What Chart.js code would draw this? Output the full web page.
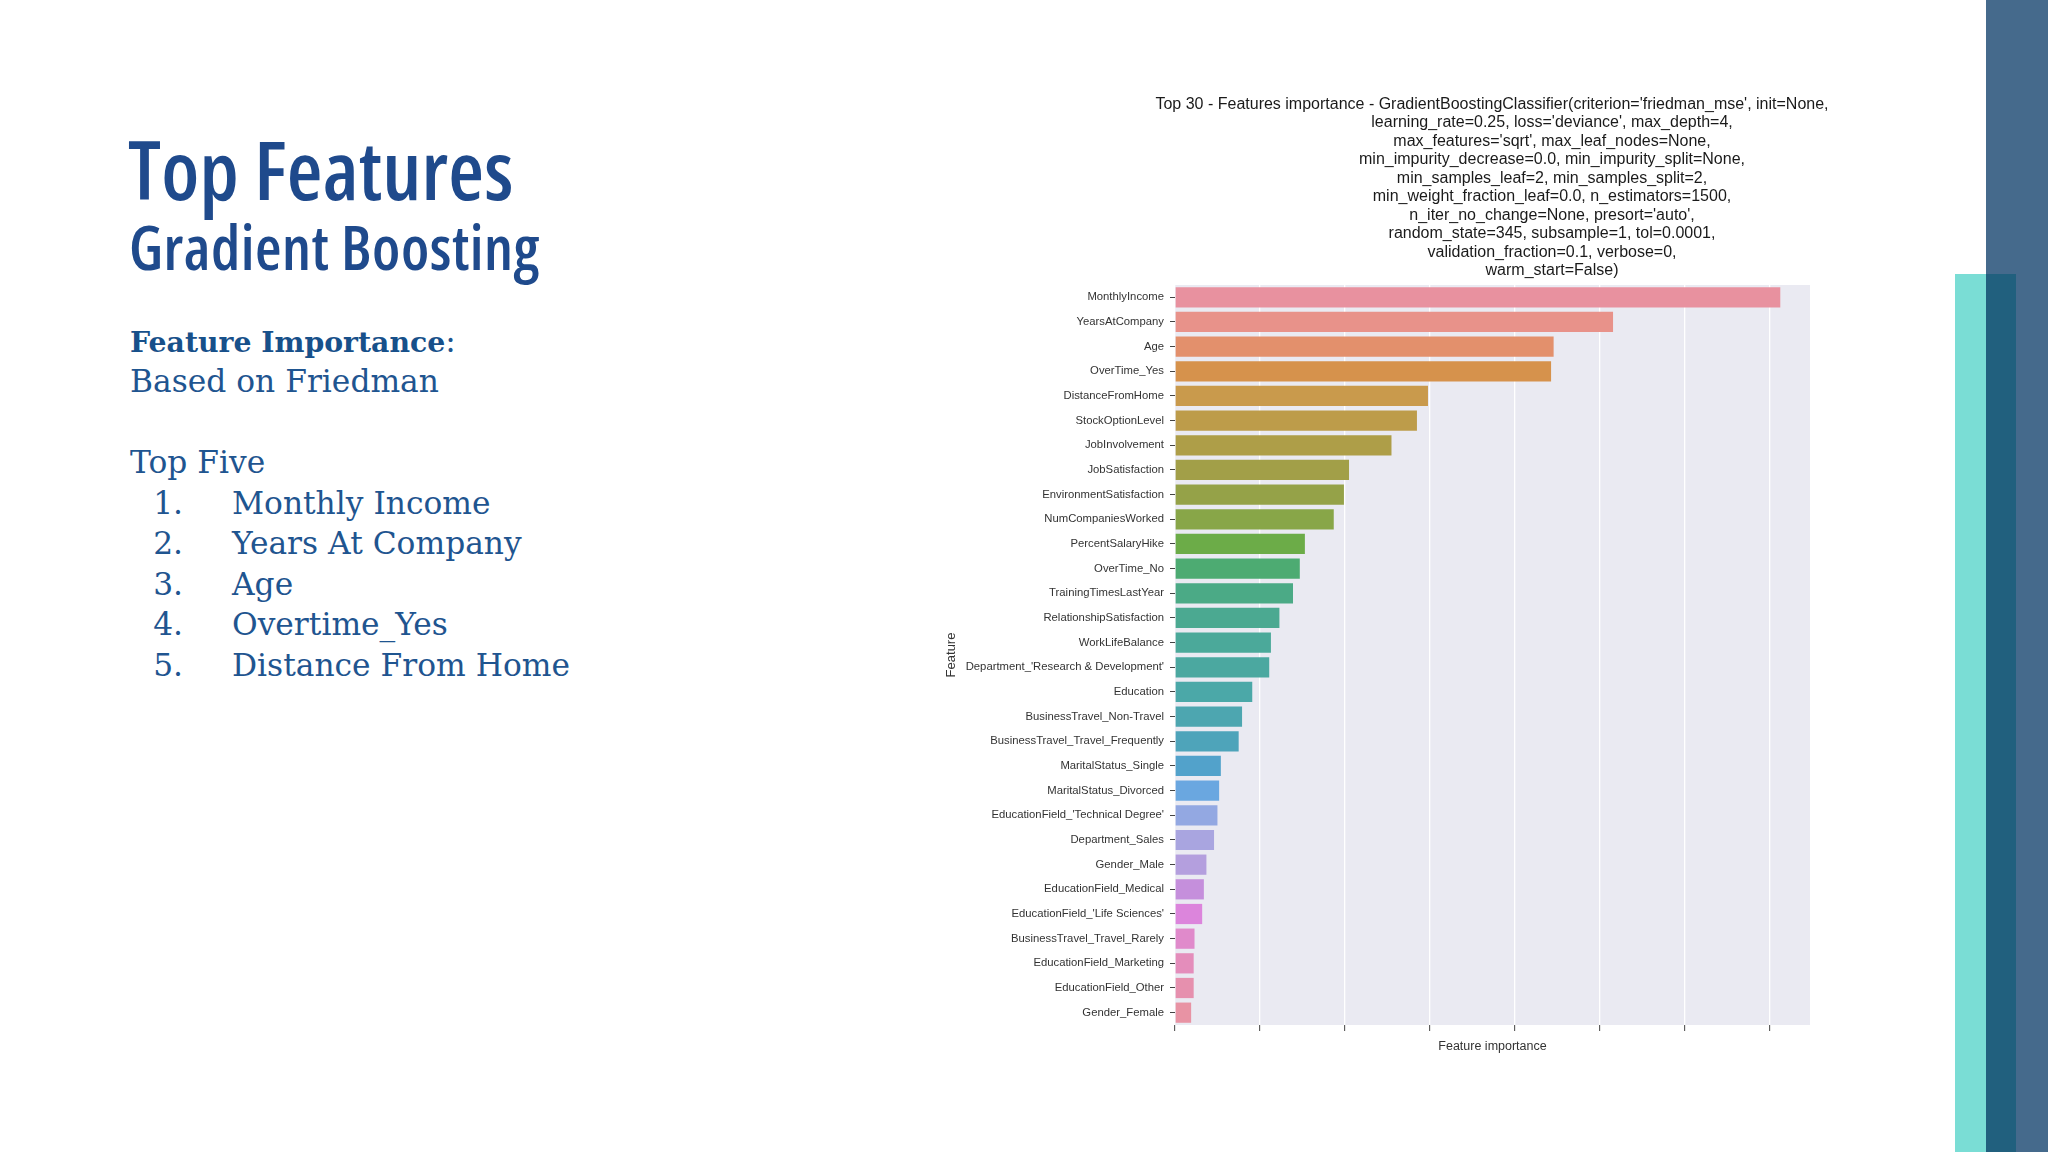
<!DOCTYPE html>
<html>
<head>
<meta charset="utf-8">
<script src="https://cdn.jsdelivr.net/npm/chart.js@4.4.1/dist/chart.umd.min.js"></script>
<style>
  html, body { margin: 0; padding: 0; background: #ffffff; }
  body { width: 2048px; height: 1152px; position: relative; overflow: hidden; }
  .t { position: absolute; white-space: nowrap; }
  #h1 { left: 128px; top: 118px; font-family: "Open Sans", sans-serif; font-weight: 600; font-stretch: 84%; font-size: 82px; line-height: 100px; color: #1f4a8c; letter-spacing: 0.2px; }
  #h2 { left: 129px; top: 207px; font-family: "Open Sans", sans-serif; font-weight: 600; font-stretch: 84%; font-size: 61px; line-height: 80px; color: #1f4a8c; letter-spacing: 0.5px; }
  .body { font-family: "DejaVu Serif", serif; color: #1f5590; font-size: 31.3px; line-height: 40px; }
  .num { font-family: "DejaVu Serif", serif; color: #1f5590; font-size: 31.3px; line-height: 40px; width: 52px; text-align: right; }
  #canvasWrap { position: absolute; left: 900px; top: 60px; width: 1144px; height: 1010px; }
  #panel { position: absolute; left: 1986px; top: 0; width: 62px; height: 1152px; background: #456a8c; }
  #teal { position: absolute; left: 1955px; top: 274px; width: 61px; height: 878px; background: #7addd5; }
  #overlap { position: absolute; left: 1986px; top: 274px; width: 30px; height: 878px; background: #21607e; }
</style>
</head>
<body>
<div id="panel"></div>
<div id="teal"></div>
<div id="overlap"></div>

<div class="t" id="h1">Top Features</div>
<div class="t" id="h2">Gradient Boosting</div>
<div class="t body" style="left:130px; top:321px;"><b style="color:#17508a; font-size:28.3px;">Feature Importance</b>:</div>
<div class="t body" style="left:130px; top:361px;">Based on Friedman</div>
<div class="t body" style="left:130px; top:442px;">Top Five</div>
<div class="t num" style="left:131px; top:483px;">1.</div>
<div class="t body" style="left:232px; top:483px;">Monthly Income</div>
<div class="t num" style="left:131px; top:523px;">2.</div>
<div class="t body" style="left:232px; top:523px;">Years At Company</div>
<div class="t num" style="left:131px; top:564px;">3.</div>
<div class="t body" style="left:232px; top:564px;">Age</div>
<div class="t num" style="left:131px; top:604px;">4.</div>
<div class="t body" style="left:232px; top:604px;">Overtime_Yes</div>
<div class="t num" style="left:131px; top:645px;">5.</div>
<div class="t body" style="left:232px; top:645px;">Distance From Home</div>

<div id="canvasWrap"><canvas id="c"></canvas></div>

<script>
const features = [
  "MonthlyIncome", "YearsAtCompany", "Age", "OverTime_Yes", "DistanceFromHome",
  "StockOptionLevel", "JobInvolvement", "JobSatisfaction", "EnvironmentSatisfaction", "NumCompaniesWorked",
  "PercentSalaryHike", "OverTime_No", "TrainingTimesLastYear", "RelationshipSatisfaction", "WorkLifeBalance",
  "Department_'Research & Development'", "Education", "BusinessTravel_Non-Travel", "BusinessTravel_Travel_Frequently", "MaritalStatus_Single",
  "MaritalStatus_Divorced", "EducationField_'Technical Degree'", "Department_Sales", "Gender_Male", "EducationField_Medical",
  "EducationField_'Life Sciences'", "BusinessTravel_Travel_Rarely", "EducationField_Marketing", "EducationField_Other", "Gender_Female"
];
const importance = [
  0.0713, 0.0516, 0.0446, 0.0443, 0.0298,
  0.0285, 0.0255, 0.0205, 0.0199, 0.0187,
  0.0153, 0.0147, 0.0139, 0.0123, 0.0113,
  0.0111, 0.0091, 0.0079, 0.0075, 0.0054,
  0.0052, 0.0050, 0.0046, 0.0037, 0.0034,
  0.0032, 0.0023, 0.0022, 0.0022, 0.0019
];
const barColors = [
  "#e8919f", "#e8928a", "#e3906c", "#d6924c", "#c99a4c",
  "#bd9c4a", "#ae9e48", "#a29f48", "#95a248", "#88a648",
  "#6cac48", "#4dab72", "#4baa86", "#4ba991", "#4ba99a",
  "#4ba8a0", "#4ba8a8", "#4da6b0", "#4ea4ba", "#52a2cb",
  "#6aa7e0", "#93a8e2", "#a9a5e0", "#b49fde", "#c58fdc",
  "#dc85dc", "#e08acb", "#e48dbb", "#e690ae", "#e893a4"
];
const titleLines = [
  "Top 30 - Features importance - GradientBoostingClassifier(criterion='friedman_mse', init=None,",
  "                           learning_rate=0.25, loss='deviance', max_depth=4,",
  "                           max_features='sqrt', max_leaf_nodes=None,",
  "                           min_impurity_decrease=0.0, min_impurity_split=None,",
  "                           min_samples_leaf=2, min_samples_split=2,",
  "                           min_weight_fraction_leaf=0.0, n_estimators=1500,",
  "                           n_iter_no_change=None, presort='auto',",
  "                           random_state=345, subsample=1, tol=0.0001,",
  "                           validation_fraction=0.1, verbose=0,",
  "                           warm_start=False)"
];
const xTickValues = [0, 0.01, 0.02, 0.03, 0.04, 0.05, 0.06, 0.07];
const xAxisTitle = "Feature importance";
const yAxisTitle = "Feature";
const xMin = 0, xMax = 0.0748;

const plotBg = {
  id: 'plotBg',
  beforeDraw(chart) {
    const {ctx, chartArea: a} = chart;
    ctx.save();
    ctx.fillStyle = '#eaeaf2';
    ctx.fillRect(a.left, a.top, a.right - a.left, a.bottom - a.top);
    ctx.restore();
  }
};

const FONT = "'Liberation Sans', Arial, sans-serif";
new Chart(document.getElementById('c'), {
  type: 'bar',
  data: {
    labels: features,
    datasets: [{
      data: importance,
      backgroundColor: barColors,
      borderWidth: 0,
      categoryPercentage: 1.0,
      barPercentage: 0.82
    }]
  },
  options: {
    indexAxis: 'y',
    responsive: true,
    maintainAspectRatio: false,
    animation: false,
    layout: { padding: { left: 40, right: 0, top: 0, bottom: 0 } },
    plugins: {
      legend: { display: false },
      tooltip: { enabled: false },
      title: {
        display: true,
        text: titleLines,
        color: '#1a1a1a',
        font: { family: FONT, size: 16, weight: 'normal', lineHeight: 1.156 },
        padding: { top: 35, bottom: 5 }
      }
    },
    scales: {
      x: {
        min: xMin, max: xMax,
        afterFit(scale) { scale.height = 45; },
        afterBuildTicks(scale) {
          scale.ticks = xTickValues.map(v => ({ value: v }));
        },
        ticks: { display: false },
        grid: { color: '#ffffff', lineWidth: 1.3, drawTicks: true, tickLength: 6, tickColor: '#444444', tickWidth: 1 },
        border: { display: false },
        title: { display: true, text: xAxisTitle, color: '#333333', font: { family: FONT, size: 12.5 }, padding: { top: 0, bottom: 16 } }
      },
      y: {
        afterFit(scale) { scale.width = 235; },
        ticks: { color: '#333333', font: { family: FONT, size: 11.3 }, padding: 6, autoSkip: false },
        grid: { display: true, offset: false, drawOnChartArea: false, drawTicks: true, tickLength: 5, tickColor: '#444444' },
        border: { display: false },
        title: { display: true, text: yAxisTitle, color: '#333333', font: { family: FONT, size: 13 }, padding: { top: 4, bottom: 0 } }
      },
      rightSpace: {
        type: 'linear',
        position: 'right',
        display: true,
        afterFit(scale) { scale.width = 234; },
        ticks: { display: false },
        grid: { display: false, drawTicks: false },
        border: { display: false }
      }
    }
  },
  plugins: [plotBg]
});
</script>
</body>
</html>
